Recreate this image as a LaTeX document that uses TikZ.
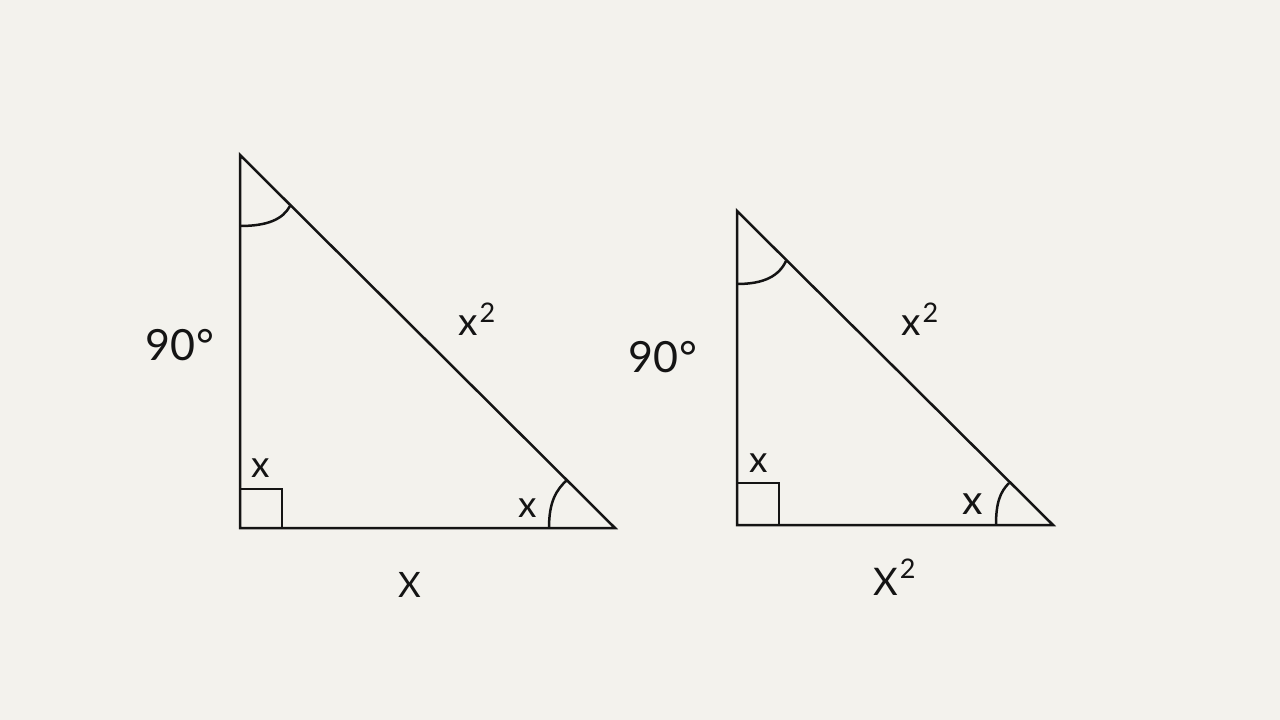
\documentclass[tikz,border=0pt]{standalone}
\usepackage{fontspec}
\setmainfont{Lato}
\newcommand\supnum[2]{\kern2pt\raisebox{#1pt}{\fontsize{27}{27}\selectfont #2}}
\definecolor{bg}{RGB}{243,242,237}
\definecolor{ink}{RGB}{20,20,20}
\tikzset{
  edge/.style={draw=ink, line width=2.5pt, line join=miter},
  anglemark/.style={draw=ink, line width=2.5pt},
  lbl/.style={inner sep=0pt, anchor=base west, text=ink},
  small/.style={lbl, font=\fontsize{37}{37}\selectfont},
  big/.style={lbl, font=\fontsize{43}{43}\selectfont},
}
\begin{document}
\begin{tikzpicture}[x=1pt,y=-1pt]
\fill[bg] (0,0) rectangle (1280,720);
\useasboundingbox (0,0) rectangle (1280,720);
% triangle 1
\coordinate (A1) at (240,155);
\coordinate (B1) at (240,528);
\coordinate (C1) at (615,528);
\draw[edge] (A1) -- (B1) -- (C1) -- cycle;
\draw[anglemark] (240,489) -- (282,489) -- (282,528);
\draw[anglemark] (240,226) .. controls (268,226) and (283,219) .. (290,206);
\draw[anglemark] (549,528) .. controls (549,502) and (556,490) .. (567,480);
% triangle 2
\coordinate (A2) at (737,211);
\coordinate (B2) at (737,525);
\coordinate (C2) at (1053,525);
\draw[edge] (A2) -- (B2) -- (C2) -- cycle;
\draw[anglemark] (737,483) -- (779,483) -- (779,525);
\draw[anglemark] (737,284) .. controls (764,284) and (779,276) .. (786,261);
\draw[anglemark] (996,525) .. controls (996,503) and (1000,492) .. (1009,483);
% labels triangle 1
\node[big] (n90a) at (145,360) {90\kern1pt°};
\node[small, font=\fontsize{39}{39}\selectfont] (hypa) at (458,335) {x\supnum{13}{2}};
\node[small] (tla) at (251,477) {x};
\node[small] (bra) at (518,517) {x};
\node[small, font=\fontsize{35}{35}\selectfont] (bota) at (398,597) {X};
% labels triangle 2
\node[big] (n90b) at (628,372) {90\kern1pt°};
\node[small, font=\fontsize{39}{39}\selectfont] (hypb) at (901,335) {x\supnum{13}{2}};
\node[small] (tlb) at (749,472) {x};
\node[small, font=\fontsize{41}{41}\selectfont] (brb) at (962,514) {x};
\node[small, font=\fontsize{38}{38}\selectfont] (botb) at (873,595) {X\supnum{17}{2}};
\end{tikzpicture}
\end{document}
